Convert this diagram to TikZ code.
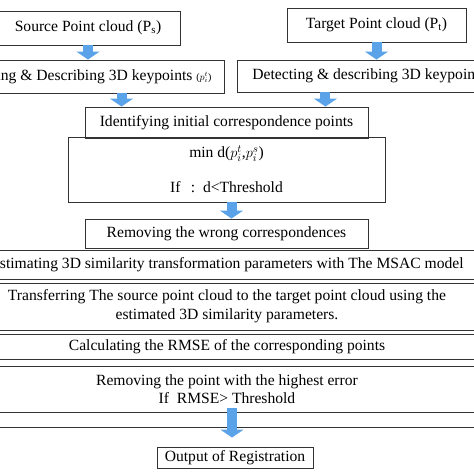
\documentclass[tikz,border=0pt]{standalone}
\usepackage{fontspec}
\setmainfont{Liberation Serif}
\usetikzlibrary{arrows.meta}
\definecolor{arrowblue}{RGB}{91,163,232}
\begin{document}
\begin{tikzpicture}[x=1pt,y=-1pt,
    box/.style={draw=black!80,line width=0.9pt,inner sep=0pt,align=center,font=\fontsize{15.6}{19}\selectfont},
    wide/.style={box,minimum width=560pt},
    bluearrow/.style={line width=10pt,arrowblue,-{Triangle[width=23pt,length=8pt]}}]
\useasboundingbox (0,0) rectangle (474,474);
\clip (0,0) rectangle (474,474);
% inputs
\node[box,minimum width=184pt,minimum height=34pt] (src) at (88,28) {Source Point cloud (P\textsubscript{s})};
\node[box,minimum width=179pt,minimum height=34pt] (tgt) at (376.5,25) {Target Point cloud (P\textsubscript{t})};
\node[box,anchor=east,inner xsep=13pt,minimum height=33pt] (kpL) at (225,76.5) {Detecting \& Describing 3D keypoints {\fontsize{10}{12}\selectfont($p_i^t$)}};
\node[box,anchor=west,inner xsep=15pt,minimum height=32pt] (kpR) at (237,76) {Detecting \& describing 3D keypoints};
% matching
\node[box,minimum width=283pt,minimum height=31pt] (ident) at (226.5,122.5) {Identifying initial correspondence points};
\node[box,minimum width=317pt,minimum height=65pt] (minbox) at (226.5,169.5) {min d($p_i^t$,$p_i^s$)\\[16pt]If~~\,:~~d<Threshold};
\node[box,minimum width=283pt,minimum height=29pt] (rmw) at (226.5,233.5) {Removing the wrong correspondences};
% estimation loop
\node[wide,minimum height=29pt] (est) at (227,264.5) {Estimating 3D similarity transformation parameters with The MSAC model};
\node[wide,minimum height=47pt] (trans) at (227,306.5) {Transferring The source point cloud to the target point cloud using the\\estimated 3D similarity parameters.};
\node[wide,minimum height=25pt] (calc) at (227,346.5) {Calculating the RMSE of the corresponding points};
\node[wide,minimum height=46pt,font=\fontsize{15.6}{18}\selectfont] (rmp) at (227,389) {Removing the point with the highest error\\If~ RMSE> Threshold};
\node[wide,minimum height=15pt] (empty) at (227,419.5) {};
\node[box,minimum width=156pt,minimum height=21pt] (out) at (235,457.5) {Output of Registration};
% arrows
\draw[bluearrow] (src.south) -- (src.south |- kpL.north);
\draw[bluearrow] (tgt.south) -- (tgt.south |- kpR.north);
\draw[bluearrow] ([xshift=37pt]ident.north west |- kpL.south) -- ([xshift=37pt]ident.north west);
\draw[bluearrow] ([xshift=-43pt]ident.north east |- kpR.south) -- ([xshift=-43pt]ident.north east);
\draw[bluearrow] ([xshift=5pt]minbox.south) -- ([xshift=5pt]rmw.north);
\draw[bluearrow] ([xshift=5pt,yshift=4pt]rmp.south) -- ([xshift=-3pt,yshift=9pt]out.north);
\end{tikzpicture}
\end{document}
